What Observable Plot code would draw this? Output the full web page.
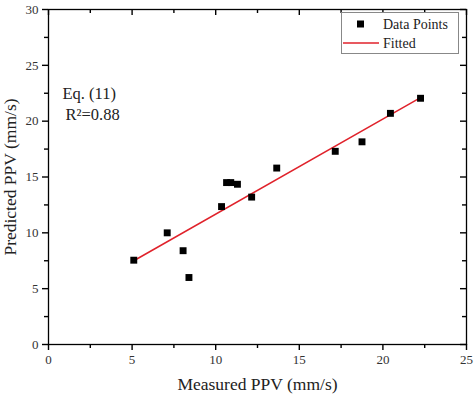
<!DOCTYPE html>
<html>
<head>
<meta charset="utf-8">
<script src="https://cdn.jsdelivr.net/npm/d3@7"></script>
<script src="https://cdn.jsdelivr.net/npm/@observablehq/plot@0.6"></script>
<style>
  html, body { margin: 0; padding: 0; background: #fff; }
  #chart { width: 474px; height: 399px; }
</style>
</head>
<body>
<div id="chart"></div>
<script>
const measured  = [5.1, 7.1, 8.05, 8.4, 10.35, 10.65, 10.9, 11.3, 12.15, 13.65, 17.15, 18.75, 20.45, 22.25];
const predicted = [7.55, 10.0, 8.4, 6.0, 12.35, 14.5, 14.5, 14.35, 13.2, 15.8, 17.3, 18.15, 20.7, 22.05];
const fittedX = [5.1, 22.25];
const fittedY = [7.5, 22.1];
const xMajor = [0, 5, 10, 15, 20, 25];
const xMinor = [2.5, 7.5, 12.5, 17.5, 22.5];
const yMajor = [0, 5, 10, 15, 20, 25, 30];
const yMinor = [2.5, 7.5, 12.5, 17.5, 22.5, 27.5];
const xLabel = "Measured PPV (mm/s)";
const yLabel = "Predicted PPV (mm/s)";
const noteLines = ["Eq. (11)", "R²=0.88"];
const legendItems = ["Data Points", "Fitted"];

(function () {
const points = measured.map((x, i) => ({x, y: predicted[i]}));
const fit = fittedX.map((x, i) => ({x, y: fittedY[i]}));
const font = "'Liberation Serif', 'Times New Roman', serif";
const red = "#e0222b";
const ink = "#000";

const M = {left: 48, right: 8, top: 9, bottom: 55, width: 474, height: 399};
const plotH = M.height - M.top - M.bottom;
const plotW = M.width - M.left - M.right;
const tickOpts = {stroke: ink, strokeWidth: 1.4, strokeOpacity: 1};
const majLen = 6, minLen = 4;

const chart = Plot.plot({
  width: M.width,
  height: M.height,
  marginLeft: M.left,
  marginRight: M.right,
  marginTop: M.top,
  marginBottom: M.bottom,
  style: {fontFamily: font, background: "#fff", color: "#222"},
  x: {domain: [0, 25]},
  y: {domain: [0, 30]},
  marks: [
    Plot.frame({stroke: ink, strokeWidth: 1.3}),
    Plot.axisX({ticks: xMajor, tickSize: 0, tickPadding: 10, fontSize: 13, label: null, tickFormat: d => d, fill: "#333"}),
    Plot.axisY({ticks: yMajor, tickSize: 0, tickPadding: 10, fontSize: 13, label: null, tickFormat: d => d, fill: "#333"}),
    // bottom ticks (outward)
    Plot.ruleX(xMajor, {x: d => d, insetTop: plotH, insetBottom: -majLen, ...tickOpts}),
    Plot.ruleX(xMinor, {x: d => d, insetTop: plotH, insetBottom: -minLen, ...tickOpts}),
    // top ticks (inward)
    Plot.ruleX(xMajor, {x: d => d, insetBottom: plotH - majLen, ...tickOpts}),
    Plot.ruleX(xMinor, {x: d => d, insetBottom: plotH - minLen, ...tickOpts}),
    // left ticks (outward)
    Plot.ruleY(yMajor, {y: d => d, insetRight: plotW, insetLeft: -majLen, ...tickOpts}),
    Plot.ruleY(yMinor, {y: d => d, insetRight: plotW, insetLeft: -minLen, ...tickOpts}),
    // right ticks (inward)
    Plot.ruleY(yMajor, {y: d => d, insetLeft: plotW - majLen, ...tickOpts}),
    Plot.ruleY(yMinor, {y: d => d, insetLeft: plotW - minLen, ...tickOpts}),
    Plot.line(fit, {x: "x", y: "y", stroke: red, strokeWidth: 1.5}),
    Plot.dot(points, {x: "x", y: "y", symbol: "square", r: 3.9, fill: "#000", stroke: "none"}),
    Plot.text([xLabel], {frameAnchor: "bottom", dy: 45, fontSize: 17.5, fill: "#222"}),
    Plot.text([yLabel], {frameAnchor: "left", dx: -38, rotate: -90, textAnchor: "middle", fontSize: 17.5, fill: "#222"}),
    Plot.text([noteLines[0]], {frameAnchor: "top-left", dx: 14, dy: 78, textAnchor: "start", fontSize: 16.5, fill: "#222"}),
    Plot.text([noteLines[1]], {frameAnchor: "top-left", dx: 17, dy: 99, textAnchor: "start", fontSize: 16.5, fill: "#222"})
  ]
});

// legend box inside the plot area (top-right)
const svg = d3.select(chart);
const g = svg.append("g").attr("font-family", font).attr("font-size", 14).attr("text-anchor", "start");
g.append("rect").attr("x", 341.5).attr("y", 12.5).attr("width", 117).attr("height", 41)
  .attr("fill", "#fff").attr("stroke", "#888").attr("stroke-width", 1);
g.append("rect").attr("x", 357).attr("y", 20.5).attr("width", 7).attr("height", 7).attr("fill", "#000");
g.append("line").attr("x1", 343).attr("x2", 379).attr("y1", 43).attr("y2", 43)
  .attr("stroke", red).attr("stroke-width", 1.5);
g.append("text").attr("x", 383).attr("y", 29).attr("fill", "#222").text(legendItems[0]);
g.append("text").attr("x", 383).attr("y", 48).attr("fill", "#222").text(legendItems[1]);

document.getElementById("chart").appendChild(chart);
})();
</script>
</body>
</html>
